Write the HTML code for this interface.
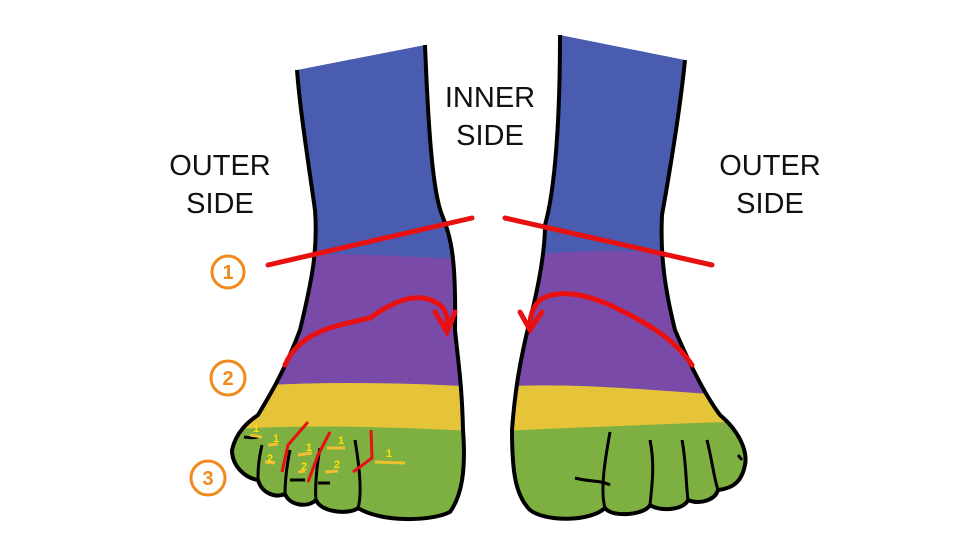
<!DOCTYPE html>
<html><head><style>
html,body{margin:0;padding:0;background:#fff;}
svg{display:block}
text{font-family:"Liberation Sans",sans-serif;font-size:29px;fill:#111;text-anchor:middle}
.n{font-size:20px;fill:#f08a1c;font-weight:bold}
.y{font-size:11px;fill:#ffe000;font-weight:bold}
</style></head><body>
<svg width="972" height="543" viewBox="0 0 972 543">
<defs>
<clipPath id="L"><path d="M297,70 L425,45 C428,120 432,190 442,215 C452,240 456,260 455,330 C458,360 462,385 463,430 C466,470 462,495 450,512 C430,522 380,522 358,508 C352,514 322,514 316,500 C308,508 290,506 285,494 C276,498 262,494 258,480 C245,478 232,466 232,450 C236,432 248,422 258,415 C270,395 285,370 300,330 C312,280 318,250 315,210 C308,160 300,110 297,70 Z"/></clipPath>
<clipPath id="R"><path d="M560,35 L685,60 C680,110 670,170 662,215 C660,255 665,290 675,330 C690,365 705,395 720,415 C738,430 748,450 745,465 C742,480 735,488 718,490 C715,500 700,505 688,500 C684,510 660,512 650,505 C645,515 612,518 605,508 C590,522 545,522 530,510 C515,495 512,470 512,430 C515,390 520,360 530,320 C540,280 545,250 545,225 C555,190 560,120 560,35 Z"/></clipPath>
</defs>
<g clip-path="url(#L)">
<rect x="200" y="0" width="300" height="260" fill="#4a5cb0"/>
<path d="M200,258 C300,250 400,255 500,262 L500,395 L200,395 Z" fill="#7a4aa8"/>
<path d="M200,390 C300,380 400,382 500,388 L500,440 L200,440 Z" fill="#e6c43a"/>
<path d="M200,432 C300,422 400,428 500,432 L500,543 L200,543 Z" fill="#7db040"/>
</g>
<path d="M425,45 C428,120 432,190 442,215 C452,240 456,260 455,330 C458,360 462,385 463,430 C466,470 462,495 450,512 C430,522 380,522 358,508 C352,514 322,514 316,500 C308,508 290,506 285,494 C276,498 262,494 258,480 C245,478 232,466 232,450 C236,432 248,422 258,415 C270,395 285,370 300,330 C312,280 318,250 315,210 C308,160 300,110 297,70" fill="none" stroke="#000" stroke-width="4" stroke-linejoin="round"/>
<g clip-path="url(#R)">
<rect x="480" y="0" width="300" height="260" fill="#4a5cb0"/>
<path d="M480,262 C580,245 650,250 780,262 L780,400 L480,400 Z" fill="#7a4aa8"/>
<path d="M480,388 C580,380 650,392 780,398 L780,440 L480,440 Z" fill="#e6c43a"/>
<path d="M480,432 C580,427 650,425 780,420 L780,543 L480,543 Z" fill="#7db040"/>
</g>
<path d="M560,35 C560,120 555,190 545,225 C545,250 540,280 530,320 C520,360 515,390 512,430 C512,470 515,495 530,510 C545,522 590,522 605,508 C612,518 645,515 650,505 C660,512 684,510 688,500 C700,505 715,500 718,490 C735,488 742,480 745,465 C748,450 738,430 720,415 C705,395 690,365 675,330 C665,290 660,255 662,215 C670,170 680,110 685,60" fill="none" stroke="#000" stroke-width="4" stroke-linejoin="round"/>
<g fill="none" stroke="#000" stroke-width="3">
<path d="M262,445 C258,462 258,472 258,480"/><path d="M290,450 C286,470 285,485 285,494"/><path d="M320,448 C316,470 315,490 316,500"/><path d="M355,440 C360,470 362,495 358,508"/>
<path d="M290,480 L305,480"/><path d="M318,483 L330,483"/><path d="M244,437 C250,438 254,438 258,437"/>
<path d="M610,432 C605,460 600,490 605,508"/><path d="M650,440 C655,465 652,485 650,505"/><path d="M682,440 C686,460 686,485 688,500"/><path d="M707,440 C712,460 714,478 718,490"/>
<path d="M575,478 C590,482 600,480 610,485"/><path d="M738,455 L742,460"/>
</g>
<g stroke="#f0c030" stroke-width="3"><path d="M250,435 L262,437"/><path d="M268,445 L278,444"/><path d="M265,462 L275,463"/><path d="M298,455 L312,453"/><path d="M298,472 L305,471"/><path d="M327,448 L345,448"/><path d="M325,472 L338,471"/><path d="M375,462 L405,463"/></g>
<text class="y" x="256" y="432">1</text><text class="y" x="276" y="442">1</text><text class="y" x="270" y="462">2</text><text class="y" x="309" y="451">1</text><text class="y" x="304" y="470">2</text><text class="y" x="341" y="444">1</text><text class="y" x="337" y="468">2</text><text class="y" x="389" y="457">1</text>
<g stroke="#e81010" stroke-width="3" fill="none"><path d="M308,422 L288,445 L282,472"/><path d="M330,432 L318,455 L308,482"/><path d="M371,430 L372,458 L353,472"/></g>
<g stroke="#e81010" stroke-width="5" fill="none" stroke-linecap="round">
<path d="M268,265 L472,218"/><path d="M505,218 L712,265"/>
<path d="M285,365 C300,330 340,325 370,318 C395,300 420,290 440,305 C448,312 448,322 447,330"/>
<path d="M435,312 L447,332 L455,312"/>
<path d="M692,365 C672,335 640,320 610,305 C580,292 555,290 540,300 C532,308 530,318 530,325"/>
<path d="M520,312 L530,330 L542,312"/>
</g>
<text x="490" y="107">INNER</text><text x="490" y="145">SIDE</text>
<text x="220" y="175">OUTER</text><text x="220" y="213">SIDE</text>
<text x="770" y="175">OUTER</text><text x="770" y="213">SIDE</text>
<g fill="none" stroke="#f08a1c" stroke-width="3"><circle cx="228" cy="272" r="16"/><circle cx="228" cy="378" r="17"/><circle cx="208" cy="478" r="17"/></g>
<text class="n" x="228" y="279">1</text><text class="n" x="228" y="385">2</text><text class="n" x="208" y="485">3</text>
</svg>
</body></html>
